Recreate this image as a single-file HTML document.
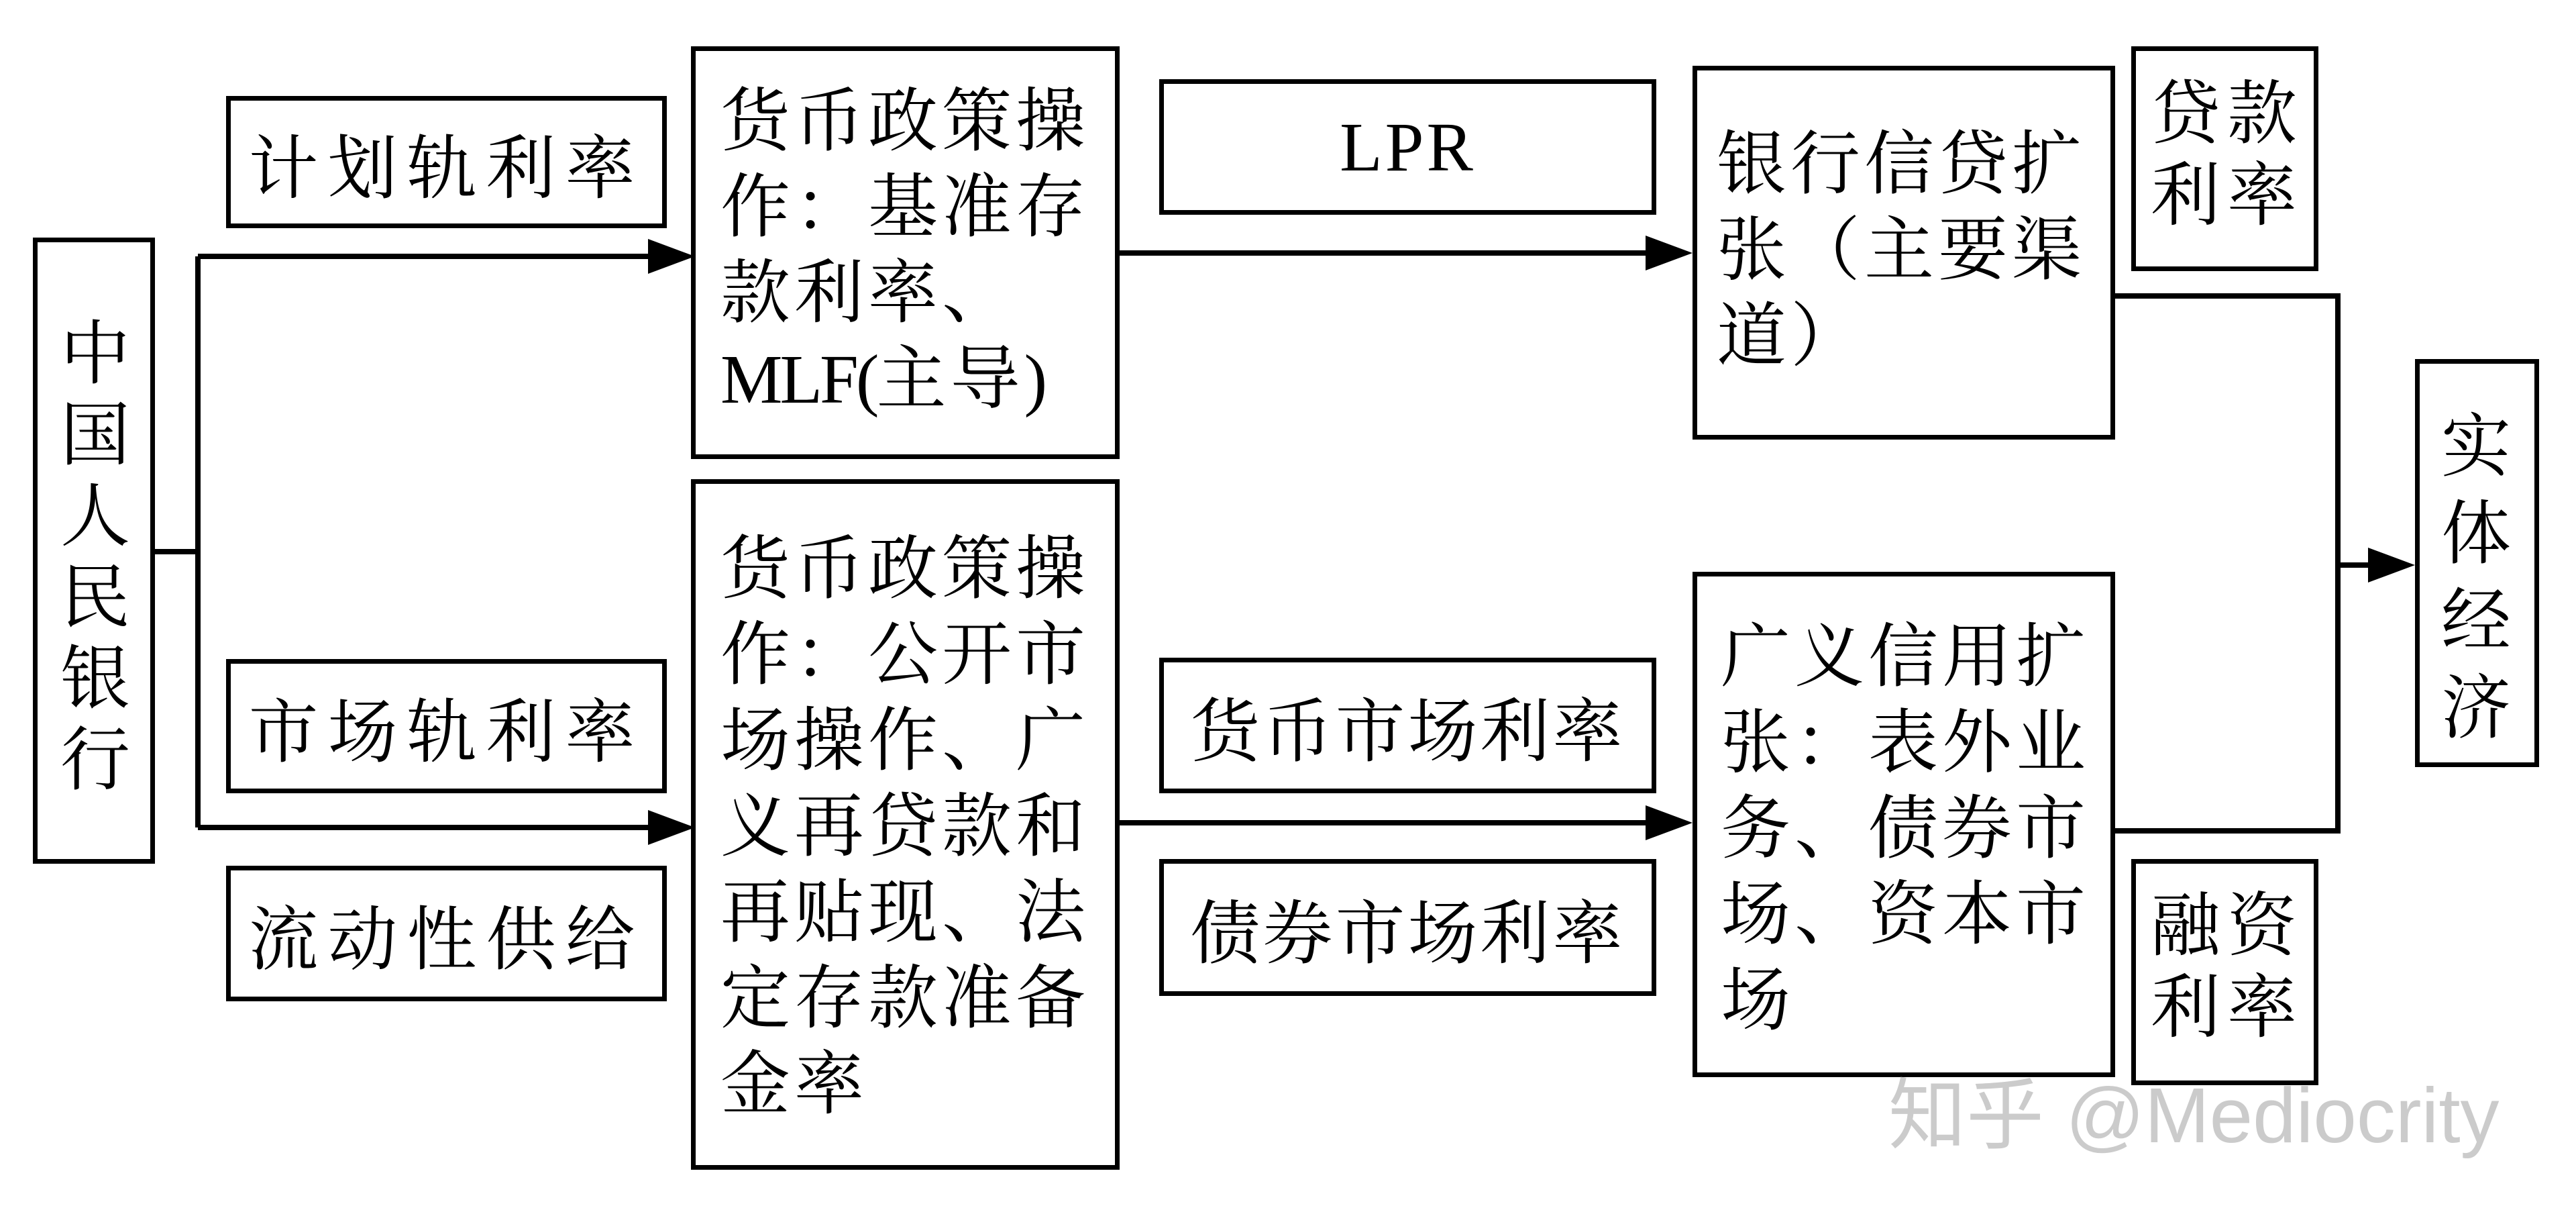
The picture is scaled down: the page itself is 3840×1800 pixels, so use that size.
<!DOCTYPE html>
<html><head><meta charset="utf-8"><style>
html,body{margin:0;padding:0;background:#fff;}
body{width:3840px;height:1800px;position:relative;overflow:hidden;font-family:"Liberation Serif","Noto Serif CJK SC",serif;color:#000;}
.b{position:absolute;border:7px solid #000;box-sizing:border-box;background:#fff;}
.c{display:flex;align-items:center;justify-content:center;font-size:104px;letter-spacing:14px;}
.t{position:absolute;font-size:104px;line-height:128px;white-space:nowrap;letter-spacing:6px;}
.l{font-family:"Liberation Serif",serif;}
svg{position:absolute;left:0;top:0;}
</style></head><body>
<svg width="3840" height="1800">
<g stroke="#000" stroke-width="8" fill="none">
<polyline points="231,822 295,822"/>
<polyline points="295,382 295,1233"/>
<polyline points="295,382 980,382"/>
<polyline points="295,1233 980,1233"/>
<polyline points="1669,377 2470,377"/>
<polyline points="1669,1226 2470,1226"/>
<polyline points="3153,441 3485,441 3485,1238 3153,1238"/>
<polyline points="3485,842 3550,842"/>
</g>
<g fill="#000">
<polygon points="1036,382 966,356 966,408"/>
<polygon points="1036,1233 966,1207 966,1259"/>
<polygon points="2523,377 2453,351 2453,403"/>
<polygon points="2523,1226 2453,1200 2453,1252"/>
<polygon points="3600,842 3530,816 3530,868"/>
</g>
</svg>

<div class="b" style="left:49px;top:354px;width:182px;height:933px;"></div>
<div class="t" style="left:90px;top:468px;width:104px;white-space:normal;line-height:121px;text-align:center;letter-spacing:0;">中国人民银行</div>

<div class="b c" style="left:337px;top:143px;width:657px;height:197px;">计划轨利率</div>
<div class="b c" style="left:337px;top:982px;width:657px;height:200px;">市场轨利率</div>
<div class="b c" style="left:337px;top:1290px;width:657px;height:202px;">流动性供给</div>

<div class="b" style="left:1030px;top:69px;width:639px;height:615px;"></div>
<div class="t" style="left:1074px;top:118px;">货币政策操<br>作：基准存<br>款利率、<br><span class="l" style="letter-spacing:-4px">MLF(</span>主导<span class="l">)</span></div>

<div class="b" style="left:1030px;top:714px;width:639px;height:1029px;"></div>
<div class="t" style="left:1074px;top:785px;">货币政策操<br>作：公开市<br>场操作、广<br>义再贷款和<br>再贴现、法<br>定存款准备<br>金率</div>

<div class="b c l" style="left:1728px;top:118px;width:741px;height:202px;letter-spacing:4px;">LPR</div>
<div class="b c" style="left:1728px;top:980px;width:741px;height:202px;letter-spacing:4px;">货币市场利率</div>
<div class="b c" style="left:1728px;top:1280px;width:741px;height:204px;letter-spacing:4px;">债券市场利率</div>

<div class="b" style="left:2523px;top:98px;width:630px;height:557px;"></div>
<div class="t" style="left:2559px;top:182px;">银行信贷扩<br>张（主要渠<br>道）</div>

<div class="b" style="left:2523px;top:852px;width:630px;height:753px;"></div>
<div class="t" style="left:2565px;top:916px;">广义信用扩<br>张：表外业<br>务、债券市<br>场、资本市<br>场</div>

<div class="b" style="left:3177px;top:69px;width:279px;height:335px;"></div>
<div class="t" style="left:3206px;top:110px;line-height:122px;letter-spacing:10px;">贷款<br>利率</div>

<div class="b" style="left:3177px;top:1280px;width:279px;height:337px;"></div>
<div class="t" style="left:3206px;top:1320px;line-height:122px;letter-spacing:10px;">融资<br>利率</div>

<div class="b" style="left:3600px;top:535px;width:185px;height:608px;"></div>
<div class="t" style="left:3639px;top:602px;width:104px;white-space:normal;line-height:130px;text-align:center;letter-spacing:0;">实体经济</div>

<div style="position:absolute;left:2815px;top:1568px;font-family:'Liberation Sans','Noto Sans CJK SC',sans-serif;font-size:116px;color:rgba(160,160,160,0.55);white-space:nowrap;">知乎 @Mediocrity</div>
</body></html>
